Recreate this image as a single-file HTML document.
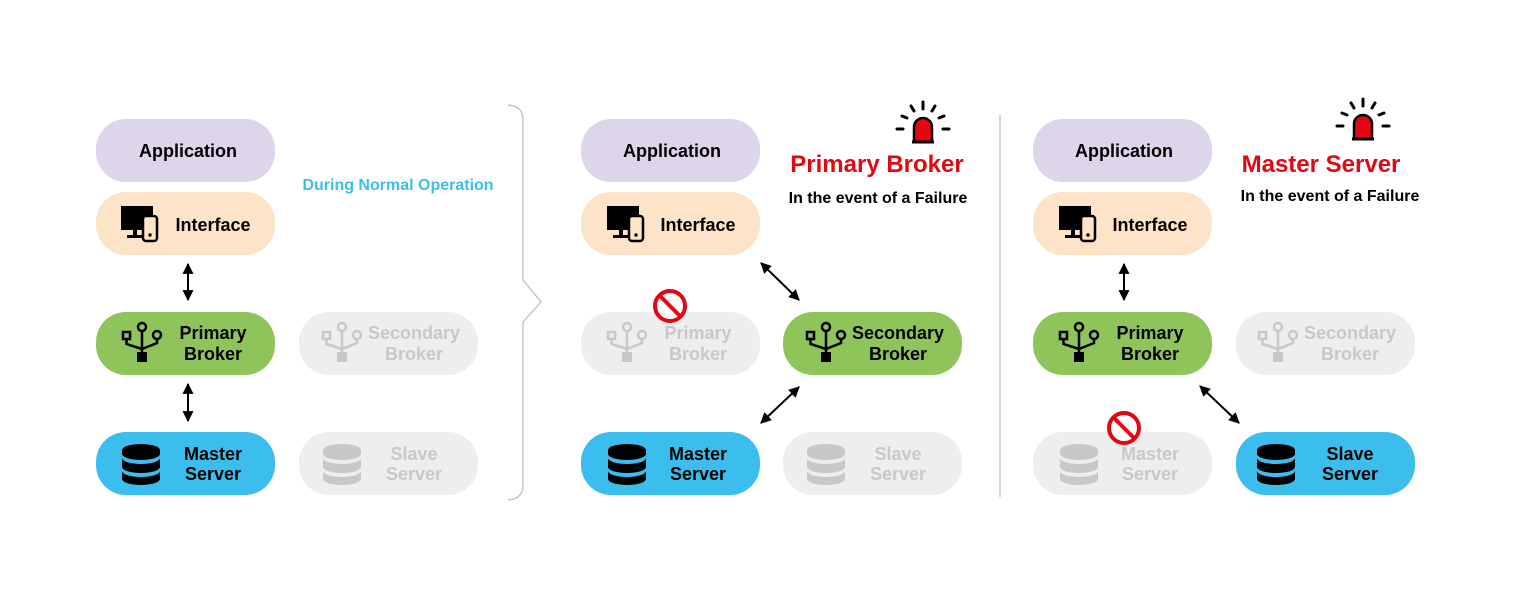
<!DOCTYPE html>
<html><head><meta charset="utf-8"><style>
body{margin:0;background:#fff}
text{font-family:"Liberation Sans",sans-serif;font-weight:bold}
</style></head><body>
<svg width="1522" height="607" viewBox="0 0 1522 607" xmlns="http://www.w3.org/2000/svg">
<defs>
<symbol id="db" viewBox="0 0 40 42" overflow="visible">
<path fill="currentColor" d="M1,7 a19,6 0 0 1 38,0 v4 a19,6 0 0 1 -38,0z"/>
<path fill="currentColor" d="M1,15 a19,6 0 0 0 38,0 v9 a19,6 0 0 1 -38,0z"/>
<path fill="currentColor" d="M1,28 a19,6 0 0 0 38,0 v8 a19,6 0 0 1 -38,0z"/>
</symbol>
<symbol id="mon" viewBox="0 0 40 40" overflow="visible">
<rect x="0" y="0" width="32" height="24" fill="currentColor"/>
<rect x="12" y="24" width="4" height="7" fill="currentColor"/>
<rect x="6" y="29" width="16" height="3" fill="currentColor"/>
<rect x="22" y="10" width="14" height="25" rx="3" fill="#fde3c8" stroke="currentColor" stroke-width="2.5"/>
<circle cx="29" cy="29" r="1.7" fill="currentColor"/>
</symbol>
<symbol id="usb" viewBox="0 0 40 42" overflow="visible">
<g fill="none" stroke="currentColor" stroke-width="2.5">
<circle cx="20" cy="5" r="4"/>
<line x1="20" y1="9" x2="20" y2="31"/>
<rect x="1" y="10" width="7" height="7"/>
<polyline points="4.5,17 4.5,22 20,27"/>
<circle cx="35" cy="13" r="4"/>
<polyline points="35,17 35,21 20,27"/>
</g>
<rect x="15" y="30" width="10" height="10" fill="currentColor"/>
</symbol>
<marker id="ah" viewBox="0 0 10 10" refX="9" refY="5" markerWidth="5.5" markerHeight="5.5" orient="auto-start-reverse">
<path d="M0,0 L10,5 L0,10z" fill="#000"/>
</marker>
<symbol id="alarm" viewBox="0 0 60 44" overflow="visible">
<g stroke="#000" stroke-width="3" stroke-linecap="round">
<line x1="30" y1="2" x2="30" y2="9"/>
<line x1="18" y1="6" x2="21" y2="11"/>
<line x1="42" y1="6" x2="39" y2="11"/>
<line x1="9" y1="16" x2="14" y2="18"/>
<line x1="51" y1="16" x2="46" y2="18"/>
<line x1="4" y1="29" x2="10" y2="29"/>
<line x1="50" y1="29" x2="56" y2="29"/>
</g>
<path d="M21,42 V27 a9,9 0 0 1 18,0 V42z" fill="#e30613" stroke="#000" stroke-width="2.5"/>
<line x1="19" y1="42" x2="41" y2="42" stroke="#000" stroke-width="3"/>
</symbol>
<symbol id="no" viewBox="0 0 34 34" overflow="visible">
<circle cx="17" cy="17" r="15" fill="#fff" stroke="#e30613" stroke-width="4"/>
<line x1="7" y1="7" x2="27" y2="27" stroke="#e30613" stroke-width="4"/>
</symbol>
</defs>

<!-- COLUMN 1 -->
<rect x="96" y="119" width="179" height="63" rx="30" fill="#ddd5ea"/>
<text x="188" y="157" font-size="18" text-anchor="middle">Application</text>
<rect x="96" y="192" width="179" height="63" rx="30" fill="#fde3c8"/>
<use href="#mon" x="121" y="206" width="40" height="40" color="#000"/>
<text x="213" y="231" font-size="18" text-anchor="middle">Interface</text>
<rect x="96" y="312" width="179" height="63" rx="30" fill="#8fc45a"/>
<use href="#usb" x="122" y="322" width="40" height="42" color="#000"/>
<text x="213" y="339" font-size="18" text-anchor="middle">Primary</text>
<text x="213" y="360" font-size="18" text-anchor="middle">Broker</text>
<rect x="96" y="432" width="179" height="63" rx="30" fill="#3bbdee"/>
<use href="#db" x="121" y="443" width="40" height="42" color="#000"/>
<text x="213" y="460" font-size="18" text-anchor="middle">Master</text>
<text x="213" y="480" font-size="18" text-anchor="middle">Server</text>

<rect x="299" y="312" width="179" height="63" rx="30" fill="#eeeeee"/>
<use href="#usb" x="322" y="322" width="40" height="42" color="#c8c8c8"/>
<text x="414" y="339" font-size="18" text-anchor="middle" fill="#c8c8c8">Secondary</text>
<text x="414" y="360" font-size="18" text-anchor="middle" fill="#c8c8c8">Broker</text>
<rect x="299" y="432" width="179" height="63" rx="30" fill="#eeeeee"/>
<use href="#db" x="322" y="443" width="40" height="42" color="#c8c8c8"/>
<text x="414" y="460" font-size="18" text-anchor="middle" fill="#c8c8c8">Slave</text>
<text x="414" y="480" font-size="18" text-anchor="middle" fill="#c8c8c8">Server</text>

<text x="398" y="190" font-size="16" text-anchor="middle" fill="#3bbdee">During Normal Operation</text>

<line x1="188" y1="264" x2="188" y2="300" stroke="#000" stroke-width="2" marker-start="url(#ah)" marker-end="url(#ah)"/>
<line x1="188" y1="384" x2="188" y2="421" stroke="#000" stroke-width="2" marker-start="url(#ah)" marker-end="url(#ah)"/>

<path d="M508,105 Q523,106 523,120 V280 L541,302 L523,322 V485 Q523,499 508,500" fill="none" stroke="#c8c8c8" stroke-width="1.5"/>

<!-- COLUMN 2 -->
<rect x="581" y="119" width="179" height="63" rx="30" fill="#ddd5ea"/>
<text x="672" y="157" font-size="18" text-anchor="middle">Application</text>
<rect x="581" y="192" width="179" height="63" rx="30" fill="#fde3c8"/>
<use href="#mon" x="607" y="206" width="40" height="40" color="#000"/>
<text x="698" y="231" font-size="18" text-anchor="middle">Interface</text>
<rect x="581" y="312" width="179" height="63" rx="30" fill="#eeeeee"/>
<use href="#usb" x="607" y="322" width="40" height="42" color="#c8c8c8"/>
<text x="698" y="339" font-size="18" text-anchor="middle" fill="#c8c8c8">Primary</text>
<text x="698" y="360" font-size="18" text-anchor="middle" fill="#c8c8c8">Broker</text>
<use href="#no" x="653" y="289" width="34" height="34"/>
<rect x="581" y="432" width="179" height="63" rx="30" fill="#3bbdee"/>
<use href="#db" x="607" y="443" width="40" height="42" color="#000"/>
<text x="698" y="460" font-size="18" text-anchor="middle">Master</text>
<text x="698" y="480" font-size="18" text-anchor="middle">Server</text>

<rect x="783" y="312" width="179" height="63" rx="30" fill="#8fc45a"/>
<use href="#usb" x="806" y="322" width="40" height="42" color="#000"/>
<text x="898" y="339" font-size="18" text-anchor="middle">Secondary</text>
<text x="898" y="360" font-size="18" text-anchor="middle">Broker</text>
<rect x="783" y="432" width="179" height="63" rx="30" fill="#eeeeee"/>
<use href="#db" x="806" y="443" width="40" height="42" color="#c8c8c8"/>
<text x="898" y="460" font-size="18" text-anchor="middle" fill="#c8c8c8">Slave</text>
<text x="898" y="480" font-size="18" text-anchor="middle" fill="#c8c8c8">Server</text>

<line x1="761" y1="263" x2="799" y2="300" stroke="#000" stroke-width="2" marker-start="url(#ah)" marker-end="url(#ah)"/>
<line x1="761" y1="423" x2="799" y2="387" stroke="#000" stroke-width="2" marker-start="url(#ah)" marker-end="url(#ah)"/>

<use href="#alarm" x="893" y="100" width="60" height="44"/>
<text x="877" y="172" font-size="24" text-anchor="middle" fill="#e30613">Primary Broker</text>
<text x="878" y="203" font-size="16" text-anchor="middle">In the event of a Failure</text>

<line x1="1000" y1="115" x2="1000" y2="497" stroke="#c8c8c8" stroke-width="1.5"/>

<!-- COLUMN 3 -->
<rect x="1033" y="119" width="179" height="63" rx="30" fill="#ddd5ea"/>
<text x="1124" y="157" font-size="18" text-anchor="middle">Application</text>
<rect x="1033" y="192" width="179" height="63" rx="30" fill="#fde3c8"/>
<use href="#mon" x="1059" y="206" width="40" height="40" color="#000"/>
<text x="1150" y="231" font-size="18" text-anchor="middle">Interface</text>
<rect x="1033" y="312" width="179" height="63" rx="30" fill="#8fc45a"/>
<use href="#usb" x="1059" y="322" width="40" height="42" color="#000"/>
<text x="1150" y="339" font-size="18" text-anchor="middle">Primary</text>
<text x="1150" y="360" font-size="18" text-anchor="middle">Broker</text>
<rect x="1033" y="432" width="179" height="63" rx="30" fill="#eeeeee"/>
<use href="#db" x="1059" y="443" width="40" height="42" color="#c8c8c8"/>
<text x="1150" y="460" font-size="18" text-anchor="middle" fill="#c8c8c8">Master</text>
<text x="1150" y="480" font-size="18" text-anchor="middle" fill="#c8c8c8">Server</text>
<use href="#no" x="1107" y="411" width="34" height="34"/>

<rect x="1236" y="312" width="179" height="63" rx="30" fill="#eeeeee"/>
<use href="#usb" x="1258" y="322" width="40" height="42" color="#c8c8c8"/>
<text x="1350" y="339" font-size="18" text-anchor="middle" fill="#c8c8c8">Secondary</text>
<text x="1350" y="360" font-size="18" text-anchor="middle" fill="#c8c8c8">Broker</text>
<rect x="1236" y="432" width="179" height="63" rx="30" fill="#3bbdee"/>
<use href="#db" x="1256" y="443" width="40" height="42" color="#000"/>
<text x="1350" y="460" font-size="18" text-anchor="middle">Slave</text>
<text x="1350" y="480" font-size="18" text-anchor="middle">Server</text>

<line x1="1124" y1="264" x2="1124" y2="300" stroke="#000" stroke-width="2" marker-start="url(#ah)" marker-end="url(#ah)"/>
<line x1="1200" y1="386" x2="1239" y2="423" stroke="#000" stroke-width="2" marker-start="url(#ah)" marker-end="url(#ah)"/>

<use href="#alarm" x="1333" y="97" width="60" height="44"/>
<text x="1321" y="172" font-size="24" text-anchor="middle" fill="#e30613">Master Server</text>
<text x="1330" y="201" font-size="16" text-anchor="middle">In the event of a Failure</text>
</svg>
</body></html>
